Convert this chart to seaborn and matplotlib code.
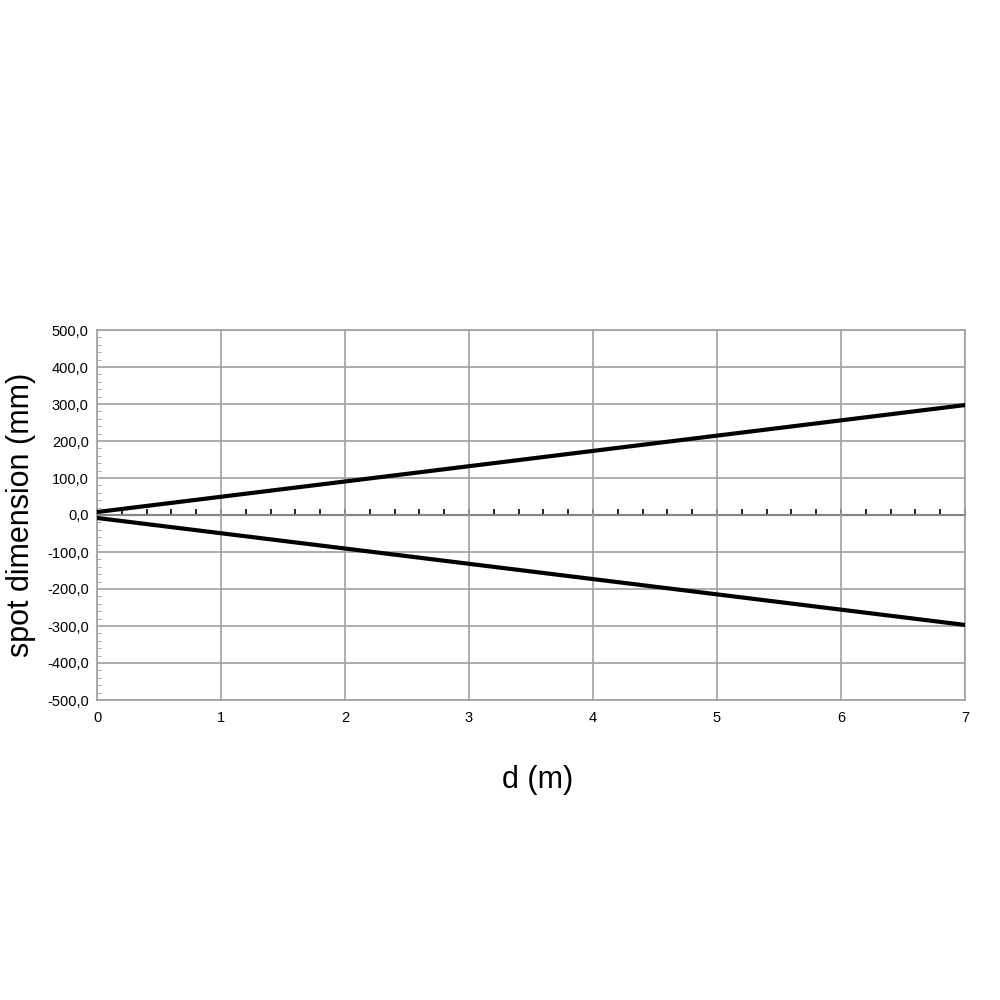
import numpy as np
import pandas as pd
import matplotlib
matplotlib.use("Agg")
import matplotlib.pyplot as plt
from matplotlib.ticker import MultipleLocator, FuncFormatter
import seaborn as sns

# values
d_m = [0, 1, 2, 3, 4, 5, 6, 7]
upper_mm = [8.0, 49.3, 90.6, 131.9, 173.2, 214.5, 255.8, 297.1]
lower_mm = [-8.0, -49.3, -90.6, -131.9, -173.2, -214.5, -255.8, -297.1]

df = pd.DataFrame({"d": d_m * 2,
                   "spot": upper_mm + lower_mm,
                   "edge": ["upper"] * len(d_m) + ["lower"] * len(d_m)})

sns.set_style("white")
plt.rcParams['font.family'] = ['Liberation Sans', 'DejaVu Sans']

fig = plt.figure(figsize=(10, 10), dpi=100)
ax = fig.add_axes([0.097, 0.30, 0.868, 0.37])

sns.lineplot(data=df, x="d", y="spot", units="edge", estimator=None,
             color="black", linewidth=3, ax=ax, legend=False, zorder=5)

ax.set_xlim(0, 7)
ax.set_ylim(-500, 500)
ax.xaxis.set_major_locator(MultipleLocator(1))
ax.yaxis.set_major_locator(MultipleLocator(100))
ax.yaxis.set_minor_locator(MultipleLocator(20))
ax.yaxis.set_major_formatter(FuncFormatter(lambda v, p: f"{v:.1f}".replace(".", ",")))
ax.grid(True, which="major", color="#a0a0a0", linewidth=1.2)
for s in ax.spines.values():
    s.set_color("#a0a0a0")
    s.set_linewidth(1.2)

ax.tick_params(axis="x", which="both", length=0, labelsize=10.5, pad=8,
               labelcolor="black")
ax.tick_params(axis="y", which="major", direction="in", length=5,
               color="#a0a0a0", labelsize=10.5, pad=6, labelcolor="black")
ax.tick_params(axis="y", which="minor", direction="in", length=3,
               color="#a0a0a0", left=True)

# zero axis with its own small ticks pointing up
zero = ax.secondary_xaxis(0.5)
zero.xaxis.set_major_locator(MultipleLocator(1))
zero.xaxis.set_minor_locator(MultipleLocator(0.2))
zero.tick_params(which="both", direction="out", length=4, width=1.2,
                 color="black", labelbottom=False, labeltop=False)
for s in zero.spines.values():
    s.set_color("black")
    s.set_linewidth(1.5)

ax.set_xlabel("d (m)", fontsize=22, color="black")
ax.xaxis.set_label_coords(0.508, -0.175)
ax.set_ylabel("spot dimension (mm)", fontsize=22, labelpad=8, color="black")

fig.savefig("out.png", dpi=100)
